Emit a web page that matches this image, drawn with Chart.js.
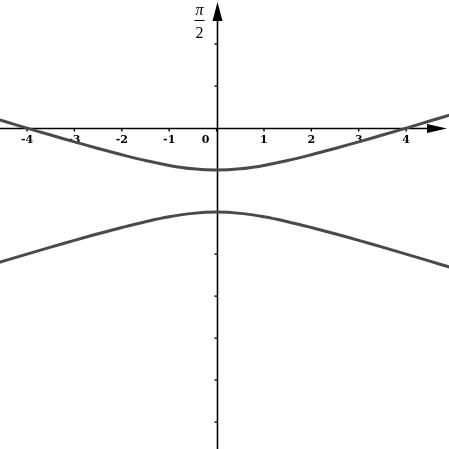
<!DOCTYPE html>
<html>
<head>
<meta charset="utf-8">
<script src="https://cdn.jsdelivr.net/npm/chart.js@4"></script>
<style>
  html, body { margin: 0; padding: 0; background: #fff; }
  canvas { display: block; }
</style>
</head>
<body>
<canvas id="graph" width="449" height="449"></canvas>
<script>
// values
let xValues = [-5, -4.5, -4, -3.5, -3, -2.5, -2, -1.5, -1, -0.5, 0, 0.5, 1, 1.5, 2, 2.5, 3, 3.5, 4, 4.5, 5];
let upperValues = [0.337, 0.168, 0, -0.165, -0.327, -0.484, -0.634, -0.771, -0.888, -0.970, -1.0, -0.970, -0.888, -0.771, -0.634, -0.484, -0.327, -0.165, 0, 0.168, 0.337];
let lowerValues = [-3.337, -3.168, -3.0, -2.835, -2.673, -2.516, -2.366, -2.229, -2.112, -2.030, -2.0, -2.030, -2.112, -2.229, -2.366, -2.516, -2.673, -2.835, -3.0, -3.168, -3.337];
let xTickValues = [-4, -3, -2, -1, 0, 1, 2, 3, 4];
let xTickLabels = ["-4", "-3", "-2", "-1", "0", "1", "2", "3", "4"];
let yTickValues = [2, 1, -1, -2, -3, -4, -5, -6, -7];

function toPoints(ys) {
  return xValues.map((x, i) => ({ x: x, y: ys[i] }));
}

// axes with arrows, drawn under the curves
const axesPlugin = {
  id: "axes",
  beforeDatasetsDraw(chart) {
    const ctx = chart.ctx;
    const xs = chart.scales.x;
    const ys = chart.scales.y;
    const area = chart.chartArea;
    const ox = Math.round(xs.getPixelForValue(0)) + 0.5;
    const oy = Math.round(ys.getPixelForValue(0)) + 0.5;

    ctx.save();
    ctx.strokeStyle = "#000";
    ctx.fillStyle = "#000";
    ctx.lineWidth = 1.6;

    // x axis
    ctx.beginPath();
    ctx.moveTo(area.left, oy);
    ctx.lineTo(area.right - 10, oy);
    ctx.stroke();
    ctx.beginPath();
    ctx.moveTo(area.right - 2, oy);
    ctx.lineTo(area.right - 22, oy - 4.5);
    ctx.lineTo(area.right - 22, oy + 4.5);
    ctx.closePath();
    ctx.fill();

    // y axis
    ctx.beginPath();
    ctx.moveTo(ox, area.bottom);
    ctx.lineTo(ox, area.top + 12);
    ctx.stroke();
    ctx.beginPath();
    ctx.moveTo(ox, area.top + 2);
    ctx.lineTo(ox - 5, area.top + 21);
    ctx.lineTo(ox + 5, area.top + 21);
    ctx.closePath();
    ctx.fill();

    // ticks
    ctx.lineWidth = 1.4;
    xTickValues.forEach((v) => {
      const px = xs.getPixelForValue(v);
      ctx.beginPath();
      ctx.moveTo(px, oy);
      ctx.lineTo(px, oy + 3);
      ctx.stroke();
    });
    yTickValues.forEach((v) => {
      const py = ys.getPixelForValue(v);
      ctx.beginPath();
      ctx.moveTo(ox - 3, py);
      ctx.lineTo(ox, py);
      ctx.stroke();
    });

    // tick labels
    ctx.font = "bold 11px 'DejaVu Serif'";
    ctx.textAlign = "center";
    ctx.textBaseline = "middle";
    xTickValues.forEach((v, i) => {
      let px = xs.getPixelForValue(v);
      if (v === 0) px -= 11;
      ctx.fillText(xTickLabels[i], px, oy + 12);
    });

    // axis name pi/2
    const lx = ox - 18;
    ctx.font = "italic 16px 'Liberation Serif'";
    ctx.textBaseline = "alphabetic";
    ctx.fillText("π", lx, area.top + 15);
    ctx.lineWidth = 1;
    ctx.beginPath();
    ctx.moveTo(lx - 5, area.top + 20.5);
    ctx.lineTo(lx + 5, area.top + 20.5);
    ctx.stroke();
    ctx.font = "16px 'Liberation Serif'";
    ctx.fillText("2", lx, area.top + 38);
    ctx.restore();
  },
};

let graph = new Chart("graph", {
  type: "scatter",
  data: {
    datasets: [
      {
        data: toPoints(upperValues),
        showLine: true,
        borderColor: "#4a4a4a",
        borderWidth: 3,
        pointRadius: 0,
        tension: 0.4,
      },
      {
        data: toPoints(lowerValues),
        showLine: true,
        borderColor: "#4a4a4a",
        borderWidth: 3,
        pointRadius: 0,
        tension: 0.4,
      },
    ],
  },
  options: {
    responsive: false,
    animation: false,
    layout: { padding: 0 },
    plugins: {
      legend: { display: false },
      tooltip: { enabled: false },
    },
    scales: {
      x: { type: "linear", min: -4.57, max: 4.905, display: false },
      y: { type: "linear", min: -7.64, max: 3.05, display: false },
    },
  },
  plugins: [axesPlugin],
});
</script>
</body>
</html>
